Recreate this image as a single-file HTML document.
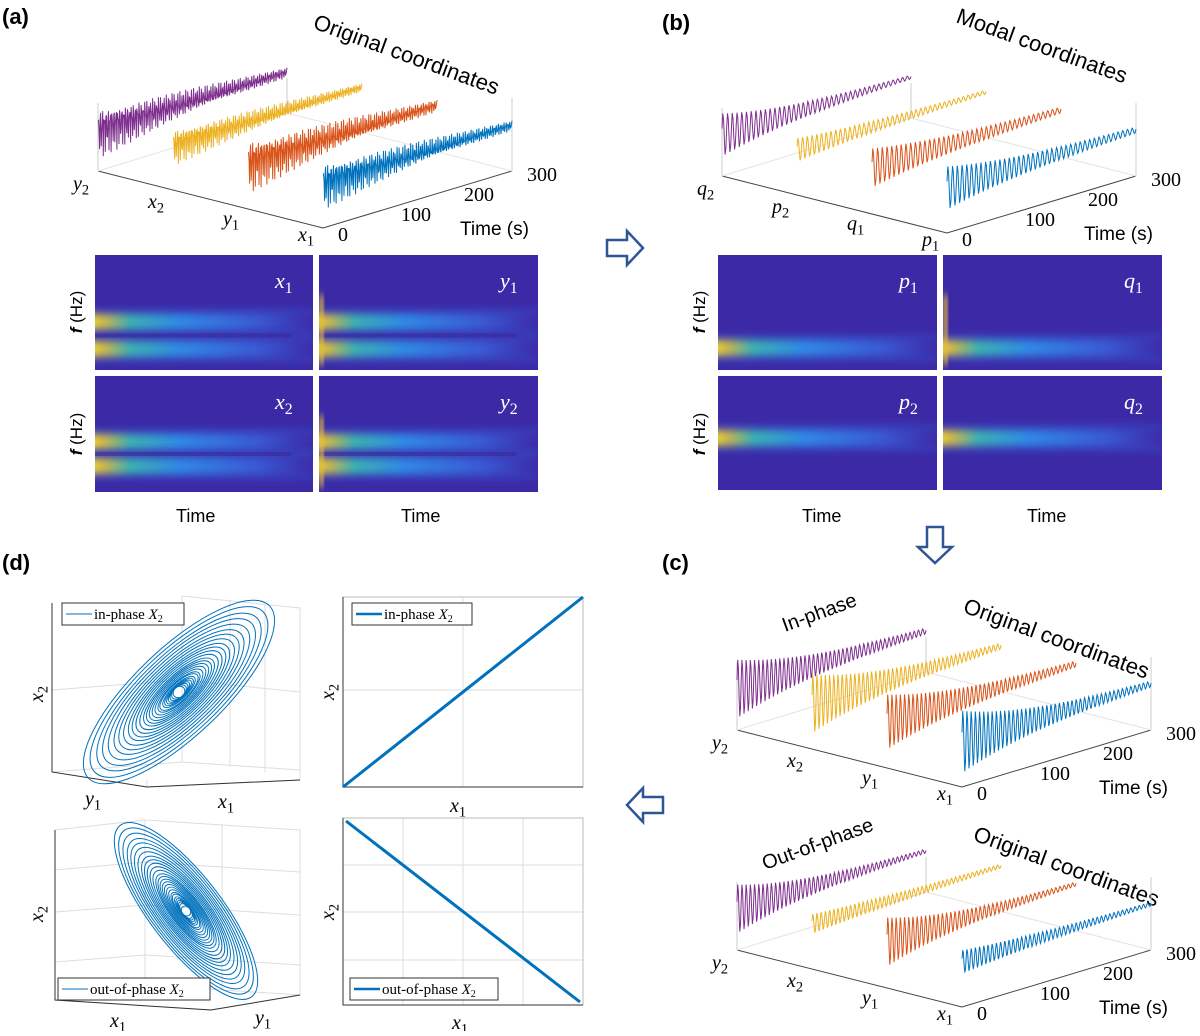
<!DOCTYPE html>
<html><head><meta charset="utf-8">
<style>
body{margin:0;background:#fff;}
svg text{font-family:"Liberation Sans",sans-serif;}
.m{font-family:"Liberation Serif",serif;font-style:italic;}
.lab{font-family:"Liberation Sans",sans-serif;font-weight:bold;font-size:22px;}
.ser{font-family:"Liberation Serif",serif;}
</style></head><body>
<svg id="fig" width="1200" height="1031" viewBox="0 0 1200 1031" xmlns="http://www.w3.org/2000/svg">
<defs>
<linearGradient id="bandY" x1="0" x2="1" y1="0" y2="0">
<stop offset="0" stop-color="#f9e12a"/><stop offset="0.06" stop-color="#d8c040"/><stop offset="0.18" stop-color="#3cb8b0"/><stop offset="0.4" stop-color="#2f8fe8"/><stop offset="0.75" stop-color="#3a5cd6"/><stop offset="1" stop-color="#3c29a5"/>
</linearGradient>
<filter id="blur" x="-0.1" y="-1" width="1.2" height="3"><feGaussianBlur stdDeviation="2 4"/></filter>
</defs>
<g id="root"></g>
</svg>
<script>
// ---------- data ----------
const colors=['#7e2f8e','#edb120','#d95319','#0072bd'];
const ampA=[[30,6],[22,5],[32,7],[28,6]];      // panel a (noisy)
const ampB=[[22,2],[12,2],[20,3],[22,3]];      // panel b (modal)
const ampC1=[[30,3],[30,3],[28,3],[32,3]];     // panel c in-phase
const ampC2=[[25,2],[10,2],[25,2],[12,2]];     // panel c out-of-phase
const timeTicks=['0','100','200','300'];
const ellRingsIn=[1,0.93,0.86,0.8,0.74,0.68,0.63,0.58,0.53,0.49,0.45,0.41,0.37,0.34,0.31,0.28,0.25,0.22,0.2,0.17,0.15,0.13,0.11,0.09,0.07,0.05];
const ellRingsOut=[1,0.94,0.88,0.82,0.77,0.72,0.67,0.62,0.58,0.54,0.5,0.46,0.42,0.39,0.36,0.33,0.3,0.27,0.24,0.21,0.19,0.16,0.14,0.12,0.1,0.08,0.05];
const specA=[[322,349],[322,349],[322,349],[322,349]];
// ---------- helpers ----------
const NS='http://www.w3.org/2000/svg';
const root=document.getElementById('root');
function mk(tag,attrs,parent,txt){const e=document.createElementNS(NS,tag);for(const k in attrs)e.setAttribute(k,attrs[k]);if(txt!==undefined)e.textContent=txt;(parent||root).appendChild(e);return e;}
function txt(x,y,s,size,cls,name,extra){
 const t=mk('text',Object.assign({x:x,y:y,'font-size':size,fill:'#000'},extra||{}),root,s);
 if(cls)t.setAttribute('class',cls);
 
 
 return t;}
function sub(x,y,base,idx,size,name,fill){
 const t=txt(x,y,'',size,'m',name,{fill:fill||'#000'});
 mk('tspan',{},t,base);
 mk('tspan',{'font-size':size*0.72,'font-style':'normal',dy:size*0.22},t,idx);
 return t;}
function trace(g,x0,y0,x1,y1,a0,a1,cycles,noisy,color){
 let d='';const N=cycles*6;
 for(let i=0;i<=N;i++){const f=i/N;const x=x0+(x1-x0)*f;const yc=y0+(y1-y0)*f;
  const a=a0*Math.pow(a1/a0,f);
  let s=Math.sin(i*Math.PI/3+0.3);
  if(noisy)s=0.6*Math.sin(i*1.7)+0.4*Math.sin(i*2.9+1);
  d+=(i?'L':'M')+x.toFixed(1)+' '+(yc-a*s).toFixed(1);}
 const p=mk('path',{d:d,stroke:color,'stroke-width':1,fill:'none'},g);
 
 
}
function waterfall(ox,oy,amps,noisy,cycles,labels,name){
 const g=mk('g',{},root);
 
 
 mk('path',{d:`M${ox} ${oy+38} L${ox+225} ${oy+95} L${ox+414} ${oy+38}`,stroke:'#444','stroke-width':1,fill:'none'},g);
 mk('path',{d:`M${ox} ${oy+38} L${ox} ${oy-30} M${ox+189} ${oy-55} L${ox+189} ${oy-20} M${ox+414} ${oy+38} L${ox+414} ${oy-35}`,stroke:'#ccc','stroke-width':1,fill:'none'},g);
 mk('path',{d:`M${ox} ${oy+38} L${ox+189} ${oy-20} L${ox+414} ${oy+38}`,stroke:'#e4e4e4','stroke-width':1,fill:'none'},g);
 const starts=[[0,0],[75,15],[150,33],[225,53]];
 const base=[-3,12,30,50];
 for(let k=0;k<4;k++){
  const x0=ox+starts[k][0],y0=oy+base[k];
  trace(g,x0,y0,x0+189,y0-58,amps[k][0],amps[k][1],cycles,noisy,colors[k]);
 }
 const lp=[[-25,57],[50,75],[125,92],[200,108]];
 for(let k=0;k<4;k++)sub(ox+lp[k][0],oy+lp[k][1],labels[k][0],labels[k][1],20,'axis-label-'+labels[k][0]+labels[k][1]);
 for(let k=0;k<4;k++){
  txt(ox+240+k*63,oy+108-k*20,timeTicks[k],20,'ser','time-tick-'+timeTicks[k]);
 }
 txt(ox+362,oy+102,'Time (s)',19,'','time-axis-title');
}
function spec(x,y,w,h,bands,label,name,edge){
 const g=mk('g',{},root);
 
 
 mk('rect',{x:x,y:y,width:w,height:h,fill:'#3c29a5'},g);
 const cp=mk('clipPath',{id:'c'+name},g);mk('rect',{x:x,y:y,width:w,height:h},cp);
 const gg=mk('g',{'clip-path':'url(#c'+name+')'},g);
 for(const b of bands){
  mk('rect',{x:x-5,y:b-14,width:w+5,height:28,fill:'#3a45c0',filter:'url(#blur)',opacity:0.7},gg);
  mk('rect',{x:x-5,y:b-8,width:w+5,height:16,fill:'url(#bandY)',filter:'url(#blur)',opacity:0.95},gg);
 }
 if(bands.length>1){const mid=(bands[0]+bands[1])/2;mk('rect',{x:x,y:mid-2,width:w*0.9,height:4,fill:'#3a2a9a',opacity:0.6},gg);}
 if(edge)mk('rect',{x:x,y:y+40,width:5,height:h-45,fill:'#e3b93a',filter:'url(#blur)',opacity:0.8},gg);
 sub(x+w-38,y+33,label[0],label[1],22,'spec-label-'+label,'#fff');
}
function arrow(cx,cy,rot,name){
 const p=mk('path',{d:'M-18 -8 L2 -8 L2 -17 L18 0 L2 17 L2 8 L-18 8 Z',fill:'#fff',stroke:'#2f5597','stroke-width':2.5,transform:`translate(${cx},${cy}) rotate(${rot})`});
 
 
}
function legend(x,y,w,label,thick,name){
 const g=mk('g',{},root);
 
 
 mk('rect',{x:x,y:y,width:w,height:22,fill:'#fff',stroke:'#333','stroke-width':1},g);
 mk('line',{x1:x+4,y1:y+11,x2:x+30,y2:y+11,stroke:'#0072bd','stroke-width':thick},g);
 const t=mk('text',{x:x+32,y:y+16,'font-size':15,class:'ser'},g,label+' ');
 mk('tspan',{'font-style':'italic'},t,'X');
 mk('tspan',{'font-size':10,dy:3},t,'2');
}
function ellipses(cx,cy,a,b,ang,rings,name){
 const g=mk('g',{transform:`translate(${cx},${cy}) rotate(${ang})`},root);
 
 
 for(const r of rings){mk('ellipse',{cx:0,cy:0,rx:a*r,ry:b*Math.max(r,0.12),fill:'none',stroke:'#0072bd','stroke-width':1},g);}
}
// ---------- panel labels ----------
txt(2,24,'(a)',22,'lab','panel-label-a');
txt(662,30,'(b)',22,'lab','panel-label-b');
txt(662,570,'(c)',22,'lab','panel-label-c');
txt(2,570,'(d)',22,'lab','panel-label-d');
// ---------- panel a ----------
txt(312,28,'Original coordinates',22,'','title-original-a',{transform:'rotate(20 312 28)'});
waterfall(98,133,ampA,true,60,[['y','2'],['x','2'],['y','1'],['x','1']],'waterfall-a');
spec(95,255,218,115,specA[0],'x1','spec-x1');
spec(319,255,219,115,specA[1],'y1','spec-y1',true);
spec(95,376,218,116,[442,466],'x2','spec-x2');
spec(319,376,219,116,[442,466],'y2','spec-y2',true);
for(const [x,y,n] of [[82,312,'f-axis-a1'],[82,434,'f-axis-a2'],[705,312,'f-axis-b1'],[705,434,'f-axis-b2']]){
 const t=txt(x,y,'',17,'',n,{transform:`rotate(-90 ${x} ${y})`,'text-anchor':'middle'});
 mk('tspan',{'font-style':'italic','font-weight':'bold'},t,'f ');mk('tspan',{},t,'(Hz)');
}
txt(176,522,'Time',18,'','time-label-a1');txt(401,522,'Time',18,'','time-label-a2');
txt(802,522,'Time',18,'','time-label-b1');txt(1027,522,'Time',18,'','time-label-b2');
// ---------- panel b ----------
txt(955,22,'Modal coordinates',22,'','title-modal-b',{transform:'rotate(20 955 22)'});
waterfall(722,138,ampB,false,40,[['q','2'],['p','2'],['q','1'],['p','1']],'waterfall-b');
spec(718,255,219,115,[348],'p1','spec-p1');
spec(943,255,219,115,[348],'q1','spec-q1',true);
spec(718,376,219,114,[438],'p2','spec-p2');
spec(943,376,219,114,[438],'q2','spec-q2');
// ---------- arrows ----------
arrow(625,248,0,'arrow-right');
arrow(935,545,90,'arrow-down');
arrow(645,805,180,'arrow-left');
// ---------- panel c ----------
txt(785,632,'In-phase',20,'','title-in-phase',{transform:'rotate(-20 785 632)'});
txt(962,612,'Original coordinates',22,'','title-original-c1',{transform:'rotate(20 962 612)'});
waterfall(737,692,ampC1,false,45,[['y','2'],['x','2'],['y','1'],['x','1']],'waterfall-c-in-phase');
txt(765,870,'Out-of-phase',20,'','title-out-of-phase',{transform:'rotate(-20 765 870)'});
txt(972,840,'Original coordinates',22,'','title-original-c2',{transform:'rotate(20 972 840)'});
waterfall(737,912,ampC2,false,45,[['y','2'],['x','2'],['y','1'],['x','1']],'waterfall-c-out-of-phase');
// ---------- panel d ----------
mk('path',{d:'M52 603 L52 772 L147 787 L300 780 M147 787 L147 780 M182 596 L182 762 L300 770 M52 772 L182 762 M182 596 L300 608 L300 780 M52 690 L182 680 L300 692 M230 600 L230 767 M265 604 L265 772',stroke:'#ddd','stroke-width':1,fill:'none'});
mk('path',{d:'M52 603 L52 772 L147 787 L300 780',stroke:'#333','stroke-width':1,fill:'none'});
ellipses(179,692,125,44,-43.5,ellRingsIn,'ellipse-in-phase');
legend(62,603,122,'in-phase',1,'legend-in-phase-3d');
sub(25,700,'x','2',20,'x2-label-3d-top',null).setAttribute('transform','rotate(-90 35 692)');
sub(85,805,'y','1',20,'y1-label-3d-top');sub(218,808,'x','1',20,'x1-label-3d-top');
mk('path',{d:'M463 597 L463 787 M343 690 L583 690',stroke:'#ddd','stroke-width':1});
mk('rect',{x:343,y:597,width:240,height:190,fill:'none',stroke:'#bbb','stroke-width':1});
mk('path',{d:'M343 597 L343 787 L583 787',stroke:'#333','stroke-width':1,fill:'none'});
mk('line',{x1:343,y1:787,x2:583,y2:597,stroke:'#0072bd','stroke-width':3});
legend(352,603,120,'in-phase',2.5,'legend-in-phase-2d');
sub(318,700,'x','2',20,'x2-label-2d-top').setAttribute('transform','rotate(-90 326 692)');
sub(450,812,'x','1',20,'x1-label-2d-top');
mk('path',{d:'M55 830 L55 1000 L211 1010 L300 995 M55 830 L145 820 L300 830 L300 995 M145 820 L145 985 L300 995 M55 912 L145 905 L300 915 M55 962 L145 955 L300 965 M55 870 L145 862 L300 872 M222 825 L222 990',stroke:'#ddd','stroke-width':1,fill:'none'});
mk('path',{d:'M55 830 L55 1000 L211 1010 L300 995',stroke:'#333','stroke-width':1,fill:'none'});
ellipses(186,911,108,36,52.5,ellRingsOut,'ellipse-out-of-phase');
legend(58,978,152,'out-of-phase',1,'legend-out-of-phase-3d');
sub(25,920,'x','2',20,'x2-label-3d-bottom').setAttribute('transform','rotate(-90 35 912)');
sub(110,1027,'x','1',20,'x1-label-3d-bottom');sub(255,1024,'y','1',20,'y1-label-3d-bottom');
mk('path',{d:'M403 818 L403 1005 M463 818 L463 1005 M523 818 L523 1005 M343 865 L583 865 M343 912 L583 912 M343 960 L583 960',stroke:'#ddd','stroke-width':1});
mk('rect',{x:343,y:818,width:240,height:187,fill:'none',stroke:'#bbb','stroke-width':1});
mk('path',{d:'M343 818 L343 1005 L583 1005',stroke:'#333','stroke-width':1,fill:'none'});
mk('line',{x1:346,y1:821,x2:580,y2:1002,stroke:'#0072bd','stroke-width':3});
legend(350,978,148,'out-of-phase',2.5,'legend-out-of-phase-2d');
sub(318,920,'x','2',20,'x2-label-2d-bottom').setAttribute('transform','rotate(-90 326 912)');
sub(452,1029,'x','1',20,'x1-label-2d-bottom');
</script>
</body></html>
